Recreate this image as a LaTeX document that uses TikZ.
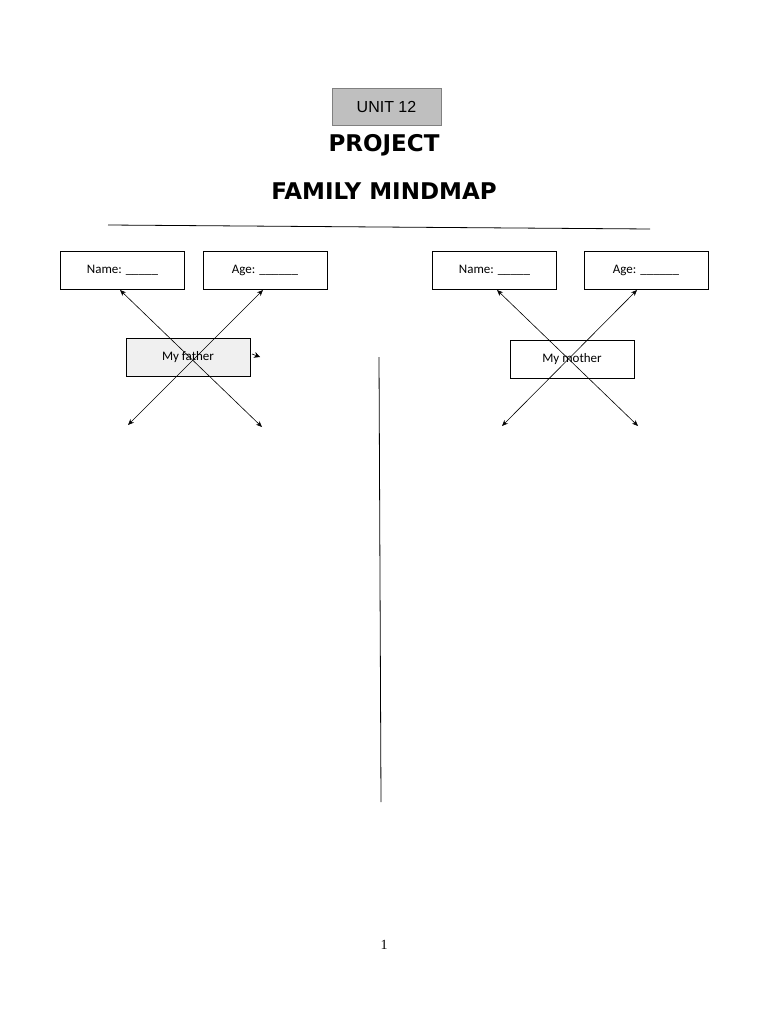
\documentclass[tikz,border=0pt]{standalone}
\usepackage{fontspec}
\setmainfont{Liberation Serif}
\newfontfamily\boxf{Carlito}
\newfontfamily\titlef{DejaVu Sans}
\newfontfamily\unitf{Liberation Sans}
\usetikzlibrary{arrows.meta}
\begin{document}
\begin{tikzpicture}[x=1pt,y=-1pt,
  fbox/.style={draw,line width=0.8pt,minimum width=124pt,minimum height=38pt,inner sep=0pt,font=\boxf\fontsize{13}{15}\selectfont},
  arr/.style={{Stealth[length=6pt,width=5pt]}-{Stealth[length=6pt,width=5pt]},line width=0.6pt}]
\useasboundingbox (0,0) rectangle (768,1024);
\node[draw=gray,fill=black!25,minimum width=109pt,minimum height=37pt,inner sep=0pt,font=\unitf\fontsize{16}{18}\selectfont] (unit) at (386.5,106.5) {UNIT 12};
\node[font=\titlef\bfseries\fontsize{23}{26}\selectfont] (proj) at (384,145) {PROJECT};
\node[font=\titlef\bfseries\fontsize{23}{26}\selectfont] (fam) at (384,191) {FAMILY MINDMAP};
\coordinate (l1) at (108,225); \coordinate (l2) at (650,229);
\draw[line width=0.8pt] (l1) -- (l2);
\node[fbox] (nl) at (122.5,270) {Name: \_\_\_\_\_};
\node[fbox] (al) at (265,270) {Age: \_\_\_\_\_\_};
\node[fbox] (nr) at (494.5,270) {Name: \_\_\_\_\_};
\node[fbox] (ar) at (646,270) {Age: \_\_\_\_\_\_};
\node[fbox,fill=black!6] (fa) at (188,357) {My father};
\node[fbox] (mo) at (572,359) {My mother};
\coordinate (a1) at (128,425); \coordinate (a2) at (263,290);
\coordinate (b1) at (120,290); \coordinate (b2) at (262,427);
\coordinate (c1) at (502,426); \coordinate (c2) at (637,290);
\coordinate (d1) at (497,290); \coordinate (d2) at (638,426);
\draw[arr] (a1) -- (a2);
\draw[arr] (b1) -- (b2);
\draw[arr] (c1) -- (c2);
\draw[arr] (d1) -- (d2);
\coordinate (t1) at (252,354); \coordinate (t2) at (260,357);
\draw[-{Stealth[length=6pt,width=6pt]},line width=0.6pt] (t1) -- (t2);
\coordinate (v1) at (379,357); \coordinate (v2) at (381,802);
\draw[line width=0.8pt] (v1) -- (v2);
\node[font=\fontsize{14}{16}\selectfont] (pg) at (384,945) {1};
\end{tikzpicture}
\end{document}
